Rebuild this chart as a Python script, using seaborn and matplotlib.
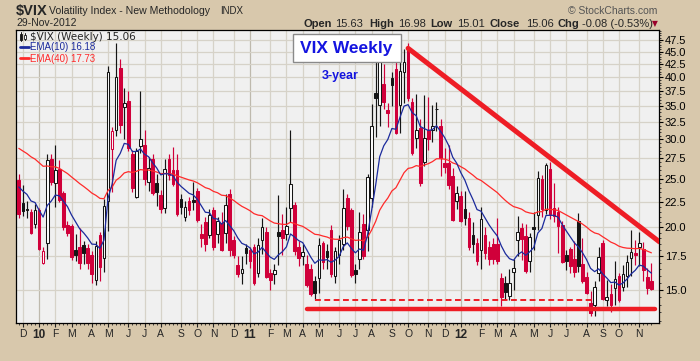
import numpy as np
import pandas as pd
import matplotlib
matplotlib.use("Agg")
import matplotlib.pyplot as plt
import matplotlib.dates as mdates
import matplotlib.ticker as mticker
from matplotlib.patches import Rectangle
from matplotlib.lines import Line2D
import seaborn as sns

# ---------------- data (weekly $VIX, week starting Monday) ----------------
first_week = "2009-11-30"
n_weeks = 157
prev_close_before_start = 24.74

opens = [24.9, 22.4, 21.8, 21.5, 20.3, 21.7, 17.0, 18.6, 27.4, 24.5,
         26.2, 23.4, 20.2, 20.1, 18.0, 18.3, 18.4, 18.2, 17.6, 15.7,
         19.3, 17.4, 22.6, 28.7, 31.3, 41.7, 34.9, 35.8, 28.1, 23.0,
         29.1, 29.3, 24.6, 27.4, 24.5, 23.2, 21.9, 27.4, 26.1, 26.0,
         22.8, 21.0, 22.6, 22.7, 23.7, 19.4, 20.5, 19.3, 21.7, 19.4,
         20.4, 19.5, 23.3, 18.9, 16.8, 16.2, 18.2, 18.0, 18.3, 16.2,
         18.9, 19.6, 16.2, 16.1, 19.6, 19.8, 19.4, 21.9, 22.2, 18.3,
         17.5, 16.9, 16.5, 15.6, 15.8, 18.6, 17.9, 19.8, 16.0, 17.6,
         18.5, 22.9, 21.7, 16.4, 17.3, 20.3, 19.8, 22.9, 37.2, 35.1,
         38.8, 34.4, 39.9, 41.5, 35.1, 41.0, 45.3, 35.7, 30.2, 31.7,
         27.1, 31.3, 31.3, 34.6, 32.0, 26.9, 26.9, 25.3, 22.6, 23.1,
         21.8, 20.9, 19.3, 18.6, 18.0, 19.3, 18.3, 18.5, 18.5, 15.8,
         15.5, 14.6, 16.3, 18.9, 19.9, 19.2, 17.1, 20.0, 21.2, 25.0,
         21.7, 26.2, 21.9, 21.5, 20.2, 17.6, 18.1, 17.3, 20.6, 16.9,
         15.9, 14.1, 14.0, 16.2, 18.6, 14.33, 14.7, 15.1, 16.0, 15.2,
         16.0, 17.4, 17.8, 18.3, 18.1, 15.9, 15.63]
highs = [25.6, 24.3, 22.6, 21.8, 22.3, 21.9, 18.3, 28.1, 28.0, 29.2,
         27.3, 23.7, 20.6, 20.3, 19.4, 19.9, 18.8, 18.5, 17.9, 18.8,
         19.6, 22.8, 42.2, 31.8, 46.9, 43.5, 38.0, 37.5, 28.6, 28.8,
         37.6, 31.3, 27.7, 28.0, 25.6, 23.8, 27.4, 28.1, 29.0, 28.0,
         23.3, 22.6, 23.0, 24.7, 24.0, 20.3, 21.0, 21.8, 22.0, 21.0,
         21.5, 23.3, 23.9, 19.2, 17.5, 17.5, 18.5, 18.3, 18.5, 19.0,
         20.9, 20.0, 16.5, 16.9, 23.2, 21.3, 22.0, 31.3, 22.5, 18.8,
         18.5, 17.6, 16.9, 16.0, 19.0, 18.8, 18.5, 20.2, 18.3, 19.3,
         23.9, 23.3, 21.9, 16.9, 21.5, 21.3, 25.6, 35.4, 48.0, 43.8,
         42.5, 35.5, 41.0, 43.3, 43.5, 45.5, 46.88, 36.3, 37.0, 33.0,
         36.8, 36.5, 35.2, 35.6, 33.0, 28.8, 29.3, 26.3, 24.2, 23.7,
         23.7, 21.5, 20.5, 19.0, 22.0, 20.0, 18.8, 19.0, 20.9, 16.2,
         16.0, 16.5, 17.3, 21.1, 20.4, 20.3, 19.5, 21.5, 25.9, 25.5,
         26.9, 27.1, 24.5, 22.0, 20.6, 18.0, 18.3, 18.8, 21.4, 19.0,
         16.3, 14.9, 15.6, 18.3, 18.9, 15.7, 15.4, 17.1, 16.2, 16.8,
         17.6, 19.8, 18.9, 19.6, 18.7, 16.6, 16.98]
lows = [20.9, 21.1, 20.9, 19.4, 19.9, 18.0, 16.9, 17.3, 24.3, 22.0,
        22.5, 19.8, 19.2, 17.2, 17.1, 16.5, 16.9, 16.5, 15.5, 15.3,
        15.6, 16.3, 19.7, 23.5, 30.5, 30.9, 30.0, 28.5, 23.5, 22.9,
        28.2, 24.3, 23.6, 23.2, 22.1, 21.4, 21.4, 24.9, 24.2, 21.1,
        21.3, 20.6, 21.2, 21.7, 20.5, 18.3, 17.9, 19.0, 18.0, 18.6,
        17.9, 18.6, 17.5, 17.4, 15.9, 15.4, 16.9, 16.6, 15.3, 15.9,
        17.7, 15.8, 15.0, 15.4, 16.8, 17.6, 18.9, 20.5, 17.6, 16.7,
        16.8, 15.2, 14.6, 14.27, 14.8, 16.5, 16.5, 15.9, 15.5, 16.9,
        18.0, 19.8, 15.9, 15.5, 16.5, 17.3, 17.9, 22.0, 30.3, 31.9,
        34.5, 31.8, 35.0, 30.8, 30.9, 35.5, 35.8, 27.9, 28.8, 24.2,
        26.5, 28.6, 29.6, 31.2, 25.4, 25.7, 23.9, 20.6, 21.8, 20.5,
        20.2, 18.0, 17.8, 16.8, 16.5, 17.3, 16.8, 16.9, 16.9, 13.9,
        14.3, 14.3, 15.0, 17.5, 17.2, 16.2, 16.3, 18.0, 19.8, 21.0,
        21.3, 20.8, 20.5, 17.8, 17.0, 16.4, 16.2, 15.9, 16.3, 15.5,
        14.7, 13.3, 13.3, 15.6, 14.3, 13.9, 13.5, 14.0, 14.2, 14.9,
        15.2, 16.0, 16.8, 16.7, 15.6, 14.7, 15.01]
closes = [21.25, 21.59, 21.68, 19.47, 21.68, 18.13, 17.91, 27.31, 24.62, 26.11,
          22.73, 20.02, 19.50, 17.42, 17.58, 16.97, 17.77, 17.00, 16.14, 18.36,
          16.62, 22.05, 40.95, 31.24, 40.10, 32.07, 35.48, 28.79, 24.00, 28.50,
          30.12, 24.98, 26.25, 23.47, 23.50, 21.74, 26.24, 25.49, 24.45, 21.31,
          21.99, 22.01, 21.71, 22.50, 20.71, 19.03, 18.50, 21.20, 18.26, 20.61,
          18.04, 22.22, 18.01, 17.61, 16.11, 16.47, 17.75, 17.14, 15.46, 18.47,
          20.04, 15.93, 15.69, 16.43, 19.22, 19.06, 20.10, 24.44, 17.91, 17.40,
          17.87, 15.32, 14.69, 14.75, 18.40, 17.07, 17.43, 16.10, 17.95, 18.86,
          21.85, 20.10, 16.06, 16.10, 19.53, 17.52, 25.25, 32.00, 36.36, 43.05,
          35.59, 33.92, 38.52, 30.98, 41.25, 42.96, 36.27, 28.24, 31.32, 24.53,
          30.16, 30.04, 32.00, 34.47, 27.52, 26.38, 24.29, 20.73, 23.40, 20.63,
          20.91, 18.28, 18.53, 17.10, 20.79, 17.78, 17.31, 17.29, 17.11, 14.47,
          14.82, 15.50, 16.60, 19.55, 18.97, 16.32, 19.16, 19.89, 25.10, 21.76,
          26.66, 21.23, 21.11, 20.11, 17.08, 17.10, 16.74, 16.27, 16.70, 15.64,
          14.74, 13.45, 15.18, 17.47, 14.38, 14.51, 13.98, 15.73, 14.33, 16.14,
          17.06, 17.81, 17.59, 18.61, 16.41, 15.14, 15.06]

ema10_start = 24.1
ema40_start = 28.8

y_ticks = [15.0, 17.5, 20.0, 22.5, 25.0, 27.5, 30.0, 32.5, 35.0, 37.5, 40.0, 42.5, 45.0, 47.5]

# drawn annotation lines (date, level)
resist_dates = ["2011-10-03", "2012-12-10"]
resist_levels = [45.7, 18.7]
support_dates = ["2011-04-12", "2012-12-02"]
support_level = 13.70
dashed_dates = ["2011-04-25", "2012-08-16"]
dashed_level = 14.3

# ---------------- styling ----------------
TAN = "#D8C8AC"
PLOT_BG = "#F0F0F0"
GRID = "#D6D2C8"
GRID_YEAR = "#BEB9AD"
CRED = "#D0003A"
CBLK = "#151515"
NAVY = "#1B2A9C"
EMARED = "#FF2A2A"
ANNRED = "#EE1D25"
BLUE = "#1414E0"

sns.set_style("white")
plt.rcParams['font.family'] = ['Liberation Sans', 'DejaVu Sans']

W, H = 700, 361
fig = plt.figure(figsize=(W / 100, H / 100), dpi=100, facecolor=TAN)
L, R, T, B = 16.3, 659.3, 29.7, 323.0
ax = fig.add_axes([L / W, 1 - B / H, (R - L) / W, (B - T) / H])
ax.set_facecolor(PLOT_BG)

dates = pd.date_range(first_week, periods=n_weeks, freq="7D")
xs = mdates.date2num(dates.to_pydatetime())
o = np.array(opens); h = np.array(highs); l = np.array(lows); c = np.array(closes)
prev = np.concatenate([[prev_close_before_start], c[:-1]])
edge = np.where(c < prev, CRED, CBLK)
face = np.where(c < o, edge, "white")

# EMAs
def ema(vals, span, start):
    a = 2.0 / (span + 1)
    out = [start]
    for v in vals[1:]:
        out.append(a * v + (1 - a) * out[-1])
    return np.array(out)

ema10 = ema(c, 10, ema10_start)
ema40 = ema(c, 40, ema40_start)

ax.set_yscale("log")
ylo, yhi = 12.86, 49.8
ax.set_ylim(ylo, yhi)
ax.set_xlim(xs[0] - 0.62 * 7, xs[-1] + 1.95 * 7)

# month ticks at first weekly bar of each month
month_pos, month_lab, is_year = [], [], []
prev_m = None
for d, x in zip(dates, xs):
    if d.month != prev_m:
        if prev_m is not None or d.day <= 7:
            month_pos.append(x)
            if d.month == 1:
                month_lab.append(d.strftime("%y"))
                is_year.append(True)
            else:
                month_lab.append(d.strftime("%b")[0])
                is_year.append(False)
        prev_m = d.month

for x, yr in zip(month_pos, is_year):
    ax.axvline(x, color=GRID_YEAR if yr else GRID, lw=0.9, zorder=0.5)
for yv in y_ticks:
    ax.axhline(yv, color=GRID, lw=0.9, zorder=0.5)

# candles
ax.vlines(xs, l, h, colors=edge, lw=0.85, zorder=2)
ax.bar(xs, np.abs(c - o), bottom=np.minimum(o, c), width=4.6,
       color=face, edgecolor=edge, linewidth=0.75, zorder=3)

sns.lineplot(x=xs, y=ema40, ax=ax, color=EMARED, lw=0.9, estimator=None,
             sort=False, zorder=4)
sns.lineplot(x=xs, y=ema10, ax=ax, color=NAVY, lw=0.9, estimator=None,
             sort=False, zorder=4)

# annotation lines
rx = mdates.date2num(pd.to_datetime(resist_dates).to_pydatetime())
ax.plot(rx, resist_levels, color=ANNRED, lw=3.6, solid_capstyle="round", zorder=6)
sx = mdates.date2num(pd.to_datetime(support_dates).to_pydatetime())
ax.plot(sx, [support_level] * 2, color=ANNRED, lw=3.2, solid_capstyle="round", zorder=6)
dx = mdates.date2num(pd.to_datetime(dashed_dates).to_pydatetime())
ax.plot(dx, [dashed_level] * 2, color=ANNRED, lw=1.4, ls=(0, (3.0, 1.8)), zorder=6)

# axes / ticks
ax.yaxis.tick_right()
ax.yaxis.set_major_locator(mticker.FixedLocator(y_ticks))
ax.yaxis.set_major_formatter(mticker.FuncFormatter(lambda v, p: f"{v:.1f}"))
ax.yaxis.set_minor_locator(mticker.FixedLocator(np.arange(13.0, 49.75, 0.5)))
ax.yaxis.set_minor_formatter(mticker.NullFormatter())
ax.tick_params(axis="y", which="major", direction="out", length=3, width=0.8,
               pad=1, labelsize=8, colors="black", right=True, left=False)
ax.tick_params(axis="y", which="minor", direction="out", length=1.5, width=0.6,
               right=True, left=False)
ax.set_xticks(month_pos)
ax.set_xticklabels(month_lab)
ax.xaxis.set_minor_locator(mticker.FixedLocator(xs))
ax.tick_params(axis="x", which="major", direction="out", length=3, width=0.8,
               pad=1.5, labelsize=7.5, bottom=True)
ax.tick_params(axis="x", which="minor", direction="out", length=1.5, width=0.6,
               bottom=True)
for lbl, yr in zip(ax.get_xticklabels(), is_year):
    if yr:
        lbl.set_fontweight("bold")
        lbl.set_fontsize(8.5)
for s in ax.spines.values():
    s.set_color("black")
    s.set_linewidth(0.9)
    s.set_visible(True)
ax.grid(False)
ax.set_xlabel("")
ax.set_ylabel("")


def ft(x, y, s, **kw):
    return fig.text(x / W, 1 - y / H, s, **kw)


# header
ft(16, 15, "$VIX", fontsize=10.5, fontweight="bold", va="baseline")
ft(49, 14.5, "Volatility Index - New Methodology", fontsize=7.6, va="baseline")
ft(220, 14.5, "INDX", fontsize=7, va="baseline")
ft(16, 26.5, "29-Nov-2012", fontsize=7.5, va="baseline")
ft(568, 14, "\u00a9 StockCharts.com", fontsize=7.5, color="#555555", va="baseline")
hdr = [(304, "Open", True), (335, "15.63", False), (369, "High", True), (398, "16.98", False),
       (430, "Low", True), (457, "15.01", False), (490, "Close", True), (526, "15.06", False),
       (558, "Chg", True), (582, "-0.08 (-0.53%)", False)]
for x, s, b in hdr:
    ft(x, 27, s, fontsize=8, fontweight="bold" if b else "normal", va="baseline")
ft(652, 26, "\u25bc", fontsize=5.5, color="#99002B", va="baseline",
   family=["DejaVu Sans"])

# in-plot legend
# small candle icon
for (x0, yt, yb, fc) in [(19.5, 33.5, 39.5, CBLK), (23.5, 34.5, 38.5, "white")]:
    fig.add_artist(Line2D([(x0 + 1) / W] * 2, [1 - (yt - 1.5) / H, 1 - (yb + 1.5) / H],
                          color=CBLK, lw=0.7, transform=fig.transFigure, zorder=12))
    fig.add_artist(Rectangle((x0 / W, 1 - yb / H), 2.2 / W, (yb - yt) / H, facecolor=fc,
                             edgecolor=CBLK, lw=0.6, transform=fig.transFigure, zorder=13))
ft(29.5, 39.5, "$VIX (Weekly) 15.06", fontsize=7.5, va="baseline",
   family=["DejaVu Sans"], zorder=12)
fig.add_artist(Line2D([19.5 / W, 28.5 / W], [1 - 47 / H] * 2, color=NAVY, lw=2,
                      transform=fig.transFigure, zorder=12))
ft(29.5, 50.5, "EMA(10) 16.18", fontsize=7, color=NAVY, va="baseline", zorder=12)
fig.add_artist(Line2D([19.5 / W, 28.5 / W], [1 - 58 / H] * 2, color=EMARED, lw=2,
                      transform=fig.transFigure, zorder=12))
ft(29.5, 61.5, "EMA(40) 17.73", fontsize=7, color=EMARED, va="baseline", zorder=12)

# title box
fig.add_artist(Rectangle((292.5 / W, 1 - 62.3 / H), 108 / W, 28.3 / H,
                         facecolor="white", edgecolor="#8A8A8A", lw=1.0,
                         transform=fig.transFigure, zorder=20))
ft(346.5, 48.5, "VIX Weekly", fontsize=12.5, fontweight="bold", color=BLUE,
   ha="center", va="center", zorder=21)
ft(340, 76.5, "3-year", fontsize=9, fontweight="bold", color=BLUE,
   ha="center", va="center", zorder=21)

fig.savefig("out.png", dpi=100, facecolor=TAN)
